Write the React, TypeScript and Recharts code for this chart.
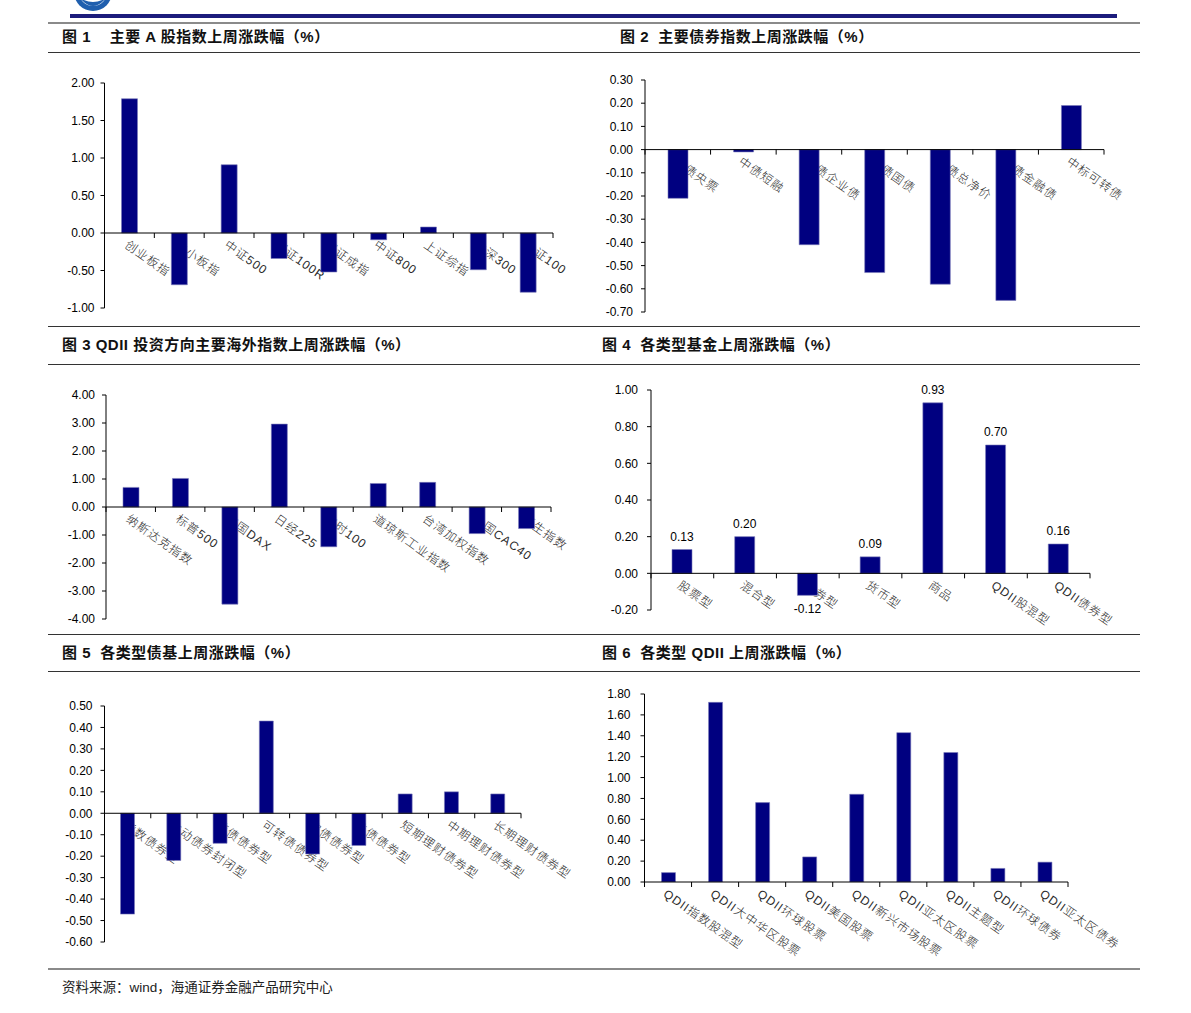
import React from 'react';
import { BarChart, Bar, XAxis, YAxis, ReferenceLine, LabelList } from 'recharts';

// 图1 主要A股指数上周涨跌幅（%）
const aShareNames = ['创业板指', '中小板指', '中证500', '深证100R', '深证成指', '中证800', '上证综指', '沪深300', '上证100'];
const aShareChange = [1.79, -0.69, 0.91, -0.34, -0.52, -0.09, 0.08, -0.49, -0.79];
const aShareTicks = [2, 1.5, 1, 0.5, 0, -0.5, -1];

// 图2 主要债券指数上周涨跌幅（%）
const bondIndexNames = ['中债央票', '中债短融', '中债企业债', '中债国债', '中债总净价', '中债金融债', '中标可转债'];
const bondIndexChange = [-0.21, -0.01, -0.41, -0.53, -0.58, -0.65, 0.19];
const bondIndexTicks = [0.3, 0.2, 0.1, 0, -0.1, -0.2, -0.3, -0.4, -0.5, -0.6, -0.7];

// 图3 QDII投资方向主要海外指数上周涨跌幅（%）
const overseasNames = ['纳斯达克指数', '标普500', '德国DAX', '日经225', '富时100', '道琼斯工业指数', '台湾加权指数', '法国CAC40', '恒生指数'];
const overseasChange = [0.7, 1.02, -3.47, 2.96, -1.42, 0.84, 0.88, -0.95, -0.77];
const overseasTicks = [4, 3, 2, 1, 0, -1, -2, -3, -4];

// 图4 各类型基金上周涨跌幅（%）
const fundTypeNames = ['股票型', '混合型', '债券型', '货币型', '商品', 'QDII股混型', 'QDII债券型'];
const fundTypeChange = [0.13, 0.2, -0.12, 0.09, 0.93, 0.7, 0.16];
const fundTypeTicks = [1, 0.8, 0.6, 0.4, 0.2, 0, -0.2];

// 图5 各类型债基上周涨跌幅（%）
const bondFundNames = ['指数债券型', '主动债券封闭型', '纯债债券型', '可转债债券型', '偏债债券型', '准债债券型', '短期理财债券型', '中期理财债券型', '长期理财债券型'];
const bondFundChange = [-0.47, -0.22, -0.14, 0.43, -0.19, -0.15, 0.09, 0.1, 0.09];
const bondFundTicks = [0.5, 0.4, 0.3, 0.2, 0.1, 0, -0.1, -0.2, -0.3, -0.4, -0.5, -0.6];

// 图6 各类型QDII上周涨跌幅（%）
const qdiiNames = ['QDII指数股混型', 'QDII大中华区股票', 'QDII环球股票', 'QDII美国股票', 'QDII新兴市场股票', 'QDII亚太区股票', 'QDII主题型', 'QDII环球债券', 'QDII亚太区债券'];
const qdiiChange = [0.09, 1.72, 0.76, 0.24, 0.84, 1.43, 1.24, 0.13, 0.19];
const qdiiTicks = [1.8, 1.6, 1.4, 1.2, 1, 0.8, 0.6, 0.4, 0.2, 0];

const NAVY = '#000080';
const LATIN_FONT = "'Liberation Sans', Arial, 'Noto Sans CJK SC', sans-serif";
const TITLE_FONT = "'Liberation Sans', 'Noto Sans CJK SC', sans-serif";
const LABEL_ANGLE = 35;

// Category names under the zero line, laid out along the band scale of the x axis.
const makeCategoryLabels = (names: string[]) => (props: any) => {
  const left = Math.min(props.x1, props.x2);
  const right = Math.max(props.x1, props.x2);
  const y = props.y1;
  const band = (right - left) / names.length;
  return (
    <g>
      {names.map((nm, i) => {
        const cx = left + band * (i + 0.5);
        const ty = y + 6;
        return (
          <text
            key={nm}
            x={cx}
            y={ty}
            dy="0.8em"
            transform={`rotate(${LABEL_ANGLE} ${cx} ${ty})`}
            fontSize={12}
            fontFamily={LATIN_FONT}
            fontWeight={300}
            letterSpacing={1}
            fill="#2a2a2a"
          >
            {nm}
          </text>
        );
      })}
    </g>
  );
};

// Horizontal axis drawn at zero with tick marks on the category boundaries.
const makeZeroAxis = (count: number) => (props: any) => {
  const left = Math.min(props.x1, props.x2);
  const right = Math.max(props.x1, props.x2);
  const y = props.y1;
  const band = (right - left) / count;
  const marks = Array.from({ length: count + 1 }, (_, i) => left + band * i);
  return (
    <g>
      <line x1={left} y1={y} x2={right} y2={y} stroke="#000" strokeWidth={1} />
      {marks.map((mx, i) => (
        <line key={i} x1={mx} y1={y} x2={mx} y2={y + 5} stroke="#000" strokeWidth={1} />
      ))}
    </g>
  );
};

const ValueTag = (props: any) => {
  const vb = props.viewBox || props;
  const { x, y, width, height } = vb;
  const v = Number(props.value);
  const top = Math.min(y, y + height);
  const bottom = Math.max(y, y + height);
  const cx = x + width / 2;
  const ty = v >= 0 ? top - 9 : bottom + 18;
  return (
    <text x={cx} y={ty} textAnchor="middle" fontSize={12} fontFamily={LATIN_FONT} fill="#000">
      {v.toFixed(2)}
    </text>
  );
};

type PanelProps = {
  left: number;
  top: number;
  width: number;
  height: number;
  plotLeft: number;
  plotRight: number;
  plotTop: number;
  plotBottom: number;
  names: string[];
  values: number[];
  ticks: number[];
  barSize: number;
  tickMargin: number;
  valueTags?: boolean;
};

function Panel(p: PanelProps) {
  const data = p.names.map((name, i) => ({ name, value: p.values[i] }));
  const margin = {
    top: p.plotTop - p.top,
    right: p.left + p.width - p.plotRight,
    bottom: p.top + p.height - p.plotBottom,
    left: 0,
  };
  const lo = Math.min(...p.ticks);
  const hi = Math.max(...p.ticks);
  return (
    <div style={{ position: 'absolute', left: p.left, top: p.top }}>
      <BarChart width={p.width} height={p.height} data={data} margin={margin}>
        <XAxis dataKey="name" hide />
        <YAxis
          width={p.plotLeft - p.left}
          domain={[lo, hi]}
          ticks={p.ticks}
          interval={0}
          allowDataOverflow
          tickFormatter={(v: number) => v.toFixed(2)}
          axisLine={{ stroke: '#000', strokeWidth: 1 }}
          tickLine={{ stroke: '#000', strokeWidth: 1 }}
          tickSize={4}
          tickMargin={p.tickMargin}
          tick={{ fontSize: 12, fill: '#000', fontFamily: LATIN_FONT }}
        />
        <ReferenceLine y={0} stroke="none" zIndex={200} shape={makeCategoryLabels(p.names)} />
        <Bar
          dataKey="value"
          fill={NAVY}
          stroke="#7a7ab8"
          strokeWidth={0.6}
          barSize={p.barSize}
          isAnimationActive={false}
        >
          {p.valueTags ? <LabelList dataKey="value" content={ValueTag} /> : null}
        </Bar>
        <ReferenceLine y={0} stroke="#000" shape={makeZeroAxis(p.names.length)} />
      </BarChart>
    </div>
  );
}

const titleStyle: React.CSSProperties = {
  position: 'absolute',
  fontFamily: TITLE_FONT,
  fontWeight: 700,
  fontSize: 15,
  letterSpacing: 0.5,
  color: '#111',
  whiteSpace: 'pre',
  lineHeight: '18px',
};

const rule = (top: number, thick: number, color: string): React.CSSProperties => ({
  position: 'absolute',
  left: 48,
  width: 1092,
  top,
  height: thick,
  background: color,
});

export default function App() {
  return (
    <div
      style={{
        position: 'absolute',
        left: 0,
        top: 0,
        width: 1191,
        height: 1013,
        background: '#fff',
        overflow: 'hidden',
      }}
    >
      {/* page header */}
      <svg style={{ position: 'absolute', left: 66, top: 0 }} width={56} height={14}>
        <circle cx={27} cy={-8} r={19} fill="#1f5fae" />
        <circle cx={27} cy={-8} r={14} fill="#fff" />
        <path d="M14 -2 Q27 14 40 -2 Q27 6 14 -2 Z" fill="#1f5fae" />
      </svg>
      <div style={{ position: 'absolute', left: 70, width: 1047, top: 14, height: 4, background: '#1c1c7c' }} />

      <div style={rule(22, 2, '#8a8a8a')} />
      <div style={{ ...titleStyle, left: 62, top: 28 }}>图 1    主要 A 股指数上周涨跌幅（%）</div>
      <div style={{ ...titleStyle, left: 620, top: 28 }}>图 2  主要债券指数上周涨跌幅（%）</div>
      <div style={rule(52, 1, '#333')} />

      <div style={rule(326, 1, '#333')} />
      <div style={{ ...titleStyle, left: 62, top: 336 }}>图 3 QDII 投资方向主要海外指数上周涨跌幅（%）</div>
      <div style={{ ...titleStyle, left: 602, top: 336 }}>图 4  各类型基金上周涨跌幅（%）</div>
      <div style={rule(364, 1, '#333')} />

      <div style={rule(634, 1, '#333')} />
      <div style={{ ...titleStyle, left: 62, top: 644 }}>图 5  各类型债基上周涨跌幅（%）</div>
      <div style={{ ...titleStyle, left: 602, top: 644 }}>图 6  各类型 QDII 上周涨跌幅（%）</div>
      <div style={rule(671, 1, '#333')} />

      <Panel
        left={50} top={70} width={530} height={260}
        plotLeft={104.5} plotRight={553} plotTop={83} plotBottom={308}
        names={aShareNames} values={aShareChange} ticks={aShareTicks}
        barSize={16} tickMargin={6}
      />
      <Panel
        left={590} top={65} width={560} height={258}
        plotLeft={645} plotRight={1104} plotTop={80} plotBottom={312}
        names={bondIndexNames} values={bondIndexChange} ticks={bondIndexTicks}
        barSize={20} tickMargin={8}
      />
      <Panel
        left={50} top={380} width={540} height={250}
        plotLeft={106} plotRight={551} plotTop={395} plotBottom={619}
        names={overseasNames} values={overseasChange} ticks={overseasTicks}
        barSize={16} tickMargin={7}
      />
      <Panel
        left={590} top={375} width={560} height={255}
        plotLeft={651} plotRight={1090} plotTop={390} plotBottom={610}
        names={fundTypeNames} values={fundTypeChange} ticks={fundTypeTicks}
        barSize={20} tickMargin={9} valueTags
      />
      <Panel
        left={50} top={690} width={540} height={272}
        plotLeft={104.5} plotRight={521} plotTop={706} plotBottom={942}
        names={bondFundNames} values={bondFundChange} ticks={bondFundTicks}
        barSize={14} tickMargin={8}
      />
      <Panel
        left={590} top={680} width={560} height={285}
        plotLeft={644.5} plotRight={1068} plotTop={694} plotBottom={882}
        names={qdiiNames} values={qdiiChange} ticks={qdiiTicks}
        barSize={14} tickMargin={10}
      />

      {/* page footer */}
      <div style={rule(968, 2, '#8a8a8a')} />
      <div
        style={{
          position: 'absolute',
          left: 62,
          top: 976,
          fontFamily: TITLE_FONT,
          fontSize: 13.5,
          color: '#222',
          whiteSpace: 'pre',
        }}
      >
        资料来源：wind，海通证券金融产品研究中心
      </div>
    </div>
  );
}
